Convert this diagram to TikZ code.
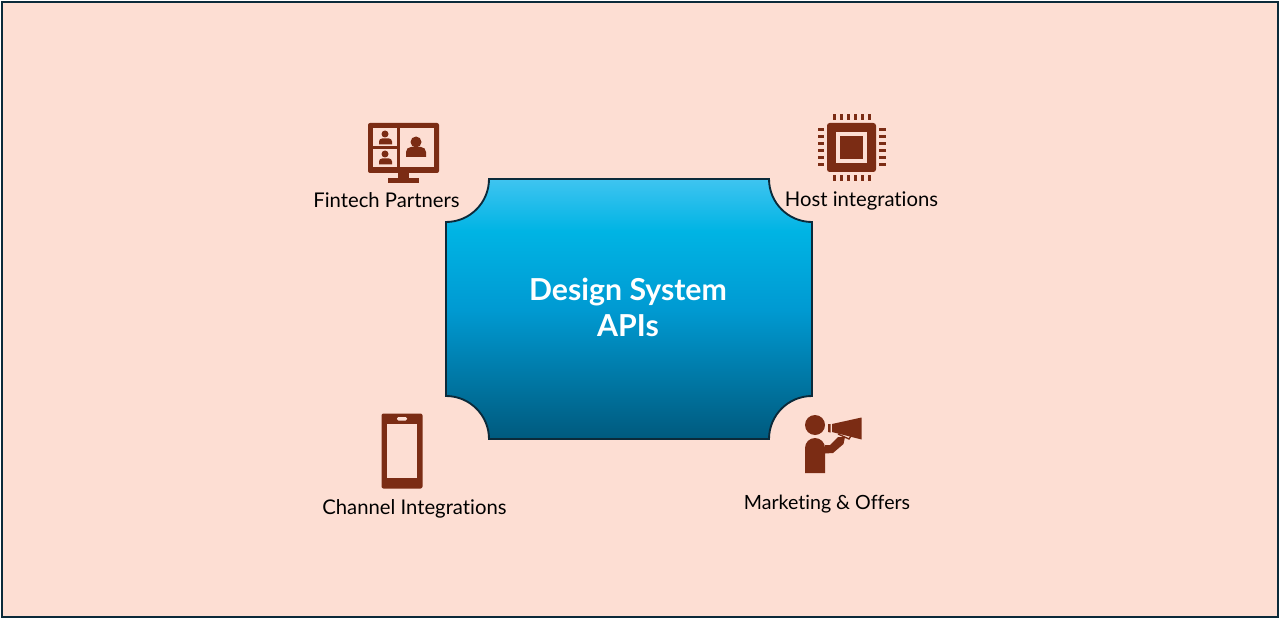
\documentclass[tikz,border=0pt]{standalone}
\usepackage{fontspec}
\setmainfont[Ligatures=NoCommon]{Lato}
\definecolor{bgpink}{HTML}{FDDED3}
\definecolor{edgedark}{HTML}{0B2A3A}
\definecolor{iconbrown}{HTML}{7B2C14}
\definecolor{blueA}{HTML}{3FC4F0}
\definecolor{blueB}{HTML}{00B4E4}
\definecolor{blueC}{HTML}{009AD2}
\definecolor{blueD}{HTML}{005A7E}
\pgfdeclareverticalshading{plaqueshade}{100bp}{color(0bp)=(blueD); color(25bp)=(blueD);
  color(50bp)=(blueC); color(65bp)=(blueB); color(75bp)=(blueA); color(100bp)=(blueA)}
\tikzset{
  label/.style={font=\fontsize{15.2}{18}\selectfont, text=black, inner sep=0pt},
  icon/.style={fill=iconbrown, draw=none},
  hole/.style={fill=bgpink, draw=none}
}
\begin{document}
\begin{tikzpicture}[x=0.75pt, y=-0.75pt]
\useasboundingbox (0,0) rectangle (1280,620);
\fill[bgpink, draw=edgedark, line width=1.8pt] (2,2) rectangle (1278,617);
% centre plaque
\draw[shading=plaqueshade, draw=edgedark, line width=1.4pt] (489,179) -- (769,179)
  arc[start angle=180, end angle=90, radius=43] -- (812,396)
  arc[start angle=270, end angle=180, radius=43] -- (489,439)
  arc[start angle=0, end angle=-90, radius=43] -- (446,222)
  arc[start angle=90, end angle=0, radius=43] -- cycle;
\node (plaque) at (628,307) [align=center, text=white, font=\fontsize{22.7}{27}\bfseries\selectfont]{Design System\\APIs};
% monitor
\fill[icon, rounded corners=1.5pt] (368,123) rectangle (439,173);
\fill[icon] (398,173) rectangle (409,178);
\fill[icon] (388,178) rectangle (419,183);
\fill[hole] (373,128) rectangle (397,146);
\fill[hole] (373,149) rectangle (397,167);
\fill[hole] (400,128) rectangle (434,167);
\fill[icon] (416,142) circle[radius=5.5];
\fill[icon] (406,157) -- (406,152) arc[start angle=180, end angle=270, radius=5] -- (421,147)
  arc[start angle=270, end angle=360, radius=5] -- (426,157) -- cycle;
\foreach \y in {134,154}{
  \fill[icon] (385,\y) circle[radius=3.5];
  \fill[icon] (379,\y+10.5) -- (379,\y+7.5) arc[start angle=180, end angle=270, radius=3] -- (389,\y+4.5)
    arc[start angle=270, end angle=360, radius=3] -- (392,\y+10.5) -- cycle;
}
\node (fintech) at (386.5,200) [label]{Fintech Partners};
% chip
\fill[icon, rounded corners=2pt] (827,123) rectangle (876,172);
\fill[hole] (836,132) rectangle (867,163);
\fill[icon] (840,136) rectangle (863,159);
\foreach \i in {0,...,5}{
  \fill[icon] (832.5+7.1*\i,114) rectangle (835.5+7.1*\i,120);
  \fill[icon] (832.5+7.1*\i,175) rectangle (835.5+7.1*\i,181);
  \fill[icon] (818,127.8+7.1*\i) rectangle (824,130.8+7.1*\i);
  \fill[icon] (879,127.8+7.1*\i) rectangle (885.5,130.8+7.1*\i);
}
\node (host) at (861.5,201) [label]{Host integrations};
% phone
\fill[icon, rounded corners=1.5pt] (381.5,413.5) rectangle (422.5,488.5);
\fill[hole] (387,424) rectangle (417,478);
\fill[hole, rounded corners=1pt] (397,417) rectangle (407,420.5);
\node (channel) at (414.5,509) [label]{Channel Integrations};
% person with megaphone
\fill[icon] (815,425) circle[radius=10];
\fill[icon] (805,473) -- (805,448) arc[start angle=180, end angle=360, radius=10] -- (825,473) -- cycle;
\fill[icon] (825,445) -- (830,445) -- (838,437) -- (845,437) -- (843.5,444) -- (833,453) -- (825,453.5) -- cycle;
\fill[icon] (832,424) -- (861.5,417.5) -- (861.5,439.5) -- (832,432) -- cycle;
\fill[icon] (828,424) -- (830.5,424) -- (830.5,432.5) -- (828,432) -- cycle;
\draw[iconbrown, line width=1pt] (838,434) -- (849,439) -- (851,436);
\node (marketing) at (827,504.5) [label, font=\fontsize{14.7}{18}\selectfont]{Marketing \& Offers};
\end{tikzpicture}
\end{document}
